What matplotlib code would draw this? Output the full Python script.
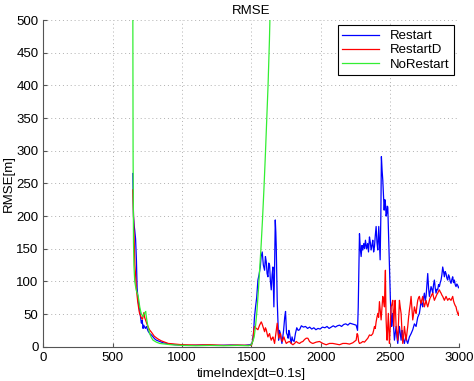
import matplotlib
matplotlib.use("Agg")
import matplotlib.pyplot as plt

# --- data ---
restart_x = [645, 650, 655, 659, 665, 671, 676, 683, 689, 695, 701, 707, 713, 719, 724, 730, 736, 743,
             755, 767, 779, 791, 803, 815, 840, 863, 890, 911, 950, 983, 1050, 1150, 1250, 1350, 1450,
             1490, 1505, 1515, 1522, 1530, 1538, 1547, 1555, 1564, 1570, 1578, 1586, 1595, 1601, 1607,
             1613, 1619, 1625, 1631, 1637, 1643, 1649, 1655, 1662, 1667, 1672, 1676, 1679, 1686, 1691,
             1696, 1702, 1708, 1714, 1720, 1726, 1732, 1740, 1746, 1753, 1759, 1765, 1770, 1775, 1781,
             1787, 1793, 1799, 1808, 1818, 1827, 1837, 1847, 1860, 1875, 1890, 1905, 1920, 1935, 1950,
             1965, 1980, 1995, 2012, 2030, 2045, 2060, 2075, 2090, 2105, 2120, 2135, 2150, 2165, 2180,
             2195, 2210, 2225, 2240, 2255, 2265, 2270, 2279, 2285, 2291, 2297, 2303, 2310, 2316, 2322,
             2330, 2338, 2344, 2351, 2357, 2363, 2369, 2375, 2381, 2387, 2393, 2399, 2405, 2411, 2418,
             2423, 2428, 2433, 2437, 2442, 2447, 2452, 2457, 2462, 2466, 2471, 2475, 2479, 2483, 2489,
             2495, 2502, 2507, 2511, 2515, 2519, 2525, 2531, 2537, 2543, 2549, 2555, 2561, 2567, 2573,
             2579, 2585, 2591, 2597, 2603, 2609, 2615, 2621, 2627, 2633, 2639, 2651, 2663, 2675, 2687,
             2699, 2711, 2717, 2723, 2729, 2735, 2741, 2747, 2753, 2759, 2765, 2771, 2777, 2783, 2789,
             2795, 2801, 2807, 2813, 2819, 2825, 2831, 2837, 2843, 2849, 2855, 2861, 2867, 2873, 2879,
             2885, 2891, 2897, 2903, 2909, 2915, 2921, 2927, 2933, 2939, 2945, 2951, 2957, 2963, 2969,
             2975, 2981, 2987, 2993, 3000]
restart_y = [265, 200, 185, 178, 165, 133, 90, 71, 62, 56, 45, 36, 40, 28, 33, 30, 28, 31,
             24, 20, 18, 15, 12, 10, 8, 6, 5, 4, 3, 2.5, 2, 2.5, 2, 2.5, 2,
             3, 5, 20, 45, 61, 75, 102, 110, 122, 138, 145, 125, 117, 138, 130,
             112, 107, 128, 125, 100, 87, 110, 122, 61, 120, 194, 175, 153, 71, 40,
             10, 25, 21, 12, 5, 15, 25, 45, 54, 21, 18, 13, 25, 21, 12,
             5, 15, 10, 8, 21, 29, 25, 26, 32, 30, 31, 28, 30, 27, 29,
             26, 28, 27, 30, 29, 31, 28, 30, 32, 30, 32, 33, 31, 34, 35,
             33, 36, 35, 34, 33, 25, 60, 173, 150, 138, 155, 148, 158, 150, 163,
             150, 158, 145, 168, 160, 148, 155, 163, 145, 153, 170, 184, 160, 148, 184,
             160, 133, 200, 291, 270, 255, 230, 209, 225, 219, 200, 204, 215, 214, 170,
             122, 71, 50, 31, 45, 51, 30, 10, 20, 31, 15, 5, 18, 31, 20,
             10, 25, 20, 10, 5, 12, 15, 8, 5, 10, 15, 20, 26, 35, 31,
             45, 51, 60, 71, 65, 61, 75, 82, 70, 77, 95, 112, 90, 77, 85,
             92, 88, 82, 95, 102, 90, 82, 88, 87, 95, 92, 98, 102, 110, 122,
             115, 107, 115, 112, 105, 102, 110, 107, 100, 97, 103, 107, 98, 102, 95,
             92, 96, 94, 90, 92]

restartd_x = [645, 650, 655, 660, 665, 670, 675, 680, 685, 690, 695, 700, 707, 715, 720, 725, 730, 735,
              742, 750, 765, 780, 800, 825, 850, 875, 900, 950, 1000, 1100, 1200, 1300, 1400, 1500,
              1511, 1517, 1523, 1535, 1547, 1559, 1571, 1577, 1583, 1589, 1595, 1601, 1607, 1613, 1619,
              1625, 1631, 1637, 1643, 1649, 1655, 1661, 1667, 1673, 1679, 1686, 1692, 1698, 1704, 1710,
              1716, 1722, 1728, 1734, 1742, 1751, 1763, 1775, 1787, 1799, 1811, 1823, 1835, 1847, 1859,
              1871, 1883, 1895, 1907, 1919, 1931, 1943, 1967, 1991, 2015, 2039, 2063, 2087, 2111, 2135,
              2159, 2183, 2207, 2231, 2255, 2262, 2267, 2273, 2279, 2291, 2303, 2315, 2327, 2339, 2351,
              2363, 2375, 2381, 2387, 2393, 2399, 2405, 2411, 2417, 2423, 2429, 2435, 2441, 2447, 2453,
              2459, 2462, 2466, 2468, 2471, 2475, 2478, 2482, 2487, 2491, 2495, 2501, 2507, 2513, 2519,
              2523, 2526, 2531, 2536, 2540, 2543, 2549, 2555, 2561, 2567, 2573, 2579, 2585, 2591, 2597,
              2603, 2609, 2615, 2621, 2627, 2633, 2639, 2645, 2651, 2657, 2663, 2669, 2675, 2681, 2687,
              2693, 2699, 2705, 2711, 2717, 2723, 2729, 2735, 2741, 2747, 2753, 2759, 2765, 2771, 2777,
              2783, 2789, 2795, 2801, 2807, 2813, 2819, 2825, 2831, 2837, 2843, 2849, 2855, 2861, 2867,
              2873, 2879, 2885, 2891, 2897, 2903, 2909, 2915, 2921, 2927, 2933, 2939, 2945, 2951, 2957,
              2963, 2969, 2975, 2981, 2987, 2993, 3000]
restartd_y = [240, 200, 160, 125, 110, 90, 80, 70, 62, 55, 50, 48, 44, 42, 48, 52, 45, 42,
              38, 33, 26, 22, 16, 12, 9, 7, 5, 4, 3, 2.5, 3, 2, 2.5, 2,
              10, 25, 31, 28, 26, 33, 38, 35, 31, 27, 23, 29, 26, 20, 15,
              18, 20, 14, 10, 13, 15, 10, 5, 15, 26, 36, 22, 13, 18, 20,
              12, 8, 11, 15, 10, 5, 7, 8, 5, 3, 5, 8, 6, 5, 7,
              8, 11, 13, 13, 8, 6, 5, 7, 8, 5, 3, 5, 5, 4, 3,
              5, 5, 4, 6, 10, 20, 18, 8, 5, 6, 8, 7, 10, 13, 18,
              17, 20, 25, 31, 28, 38, 45, 51, 45, 69, 55, 41, 60, 77, 70,
              61, 90, 117, 80, 41, 20, 10, 30, 51, 25, 5, 30, 61, 65, 71,
              50, 31, 55, 71, 50, 31, 20, 10, 40, 71, 60, 51, 25, 5, 15,
              31, 20, 10, 20, 31, 45, 56, 65, 77, 60, 41, 50, 61, 55, 51,
              62, 71, 75, 77, 70, 66, 72, 77, 68, 61, 66, 71, 65, 61, 66,
              71, 75, 77, 80, 82, 76, 71, 74, 77, 80, 82, 85, 87, 84, 82,
              79, 77, 74, 71, 74, 77, 74, 71, 73, 74, 72, 71, 74, 77, 70,
              66, 63, 61, 55, 51, 48, 56]

norestart_x = [645, 647, 650, 653, 659, 666, 672, 683, 689, 695, 701, 707, 713, 719, 725, 732, 738, 743,
               748, 755, 761, 767, 779, 791, 815, 839, 880, 920, 1000, 1100, 1200, 1300, 1400, 1480,
               1500, 1510, 1520, 1530, 1540, 1550, 1560, 1570, 1580, 1590, 1600, 1610, 1620, 1630, 1640]
norestart_y = [540, 300, 160, 125, 100, 91, 85, 78, 70, 61, 55, 50, 48, 46, 50, 52, 54, 45,
               38, 30, 25, 20, 14, 10, 7, 5, 4, 3, 2, 1.5, 2, 1.5, 2, 1.5,
               3, 8, 15, 32, 55, 85, 120, 155, 195, 240, 290, 345, 400, 470, 560]

plt.rcParams['font.family'] = ['Liberation Sans', 'DejaVu Sans']

fig = plt.figure(figsize=(4.74, 3.81), dpi=100)
ax = fig.add_axes([0.0914, 0.09, 0.878, 0.8575])

ax.plot(restart_x, restart_y, color='#0000ff', lw=0.9, label='Restart')
ax.plot(restartd_x, restartd_y, color='#ff0000', lw=0.9, label='RestartD')
ax.plot(norestart_x, norestart_y, color='#33ee33', lw=0.9, label='NoRestart')

ax.set_xlim(0, 3000)
ax.set_ylim(0, 500)
ax.set_xticks(range(0, 3001, 500))
ax.set_yticks(range(0, 501, 50))
ax.grid(True, linestyle=(0, (1, 3)), color='#b0b0b0', linewidth=0.7)
for s in ['top', 'right']:
    ax.spines[s].set_visible(False)
for s in ['left', 'bottom']:
    ax.spines[s].set_color('#555555')
ax.tick_params(direction='in', length=3, labelsize=9.5, color='#555555')

ax.set_title('RMSE', fontsize=9.5, pad=4)
ax.set_xlabel('timeIndex[dt=0.1s]', fontsize=9.5, labelpad=3)
ax.set_ylabel('RMSE[m]', fontsize=9.5, labelpad=1)

leg = ax.legend(loc='upper right', fontsize=9.5, fancybox=False, framealpha=1,
                edgecolor='black', borderaxespad=0.4, handlelength=2.8,
                labelspacing=0.15, borderpad=0.35)
leg.get_frame().set_linewidth(0.8)

fig.savefig('out.png', dpi=100)
